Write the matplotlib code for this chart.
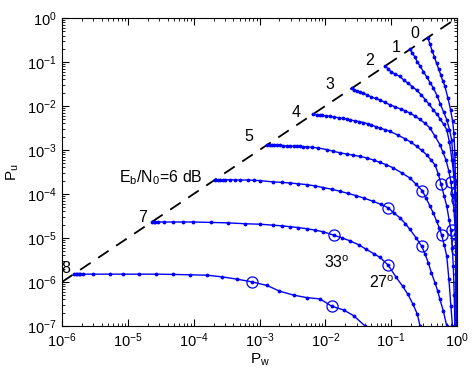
import matplotlib
matplotlib.use("Agg")
import matplotlib.pyplot as plt

plt.rcParams["font.family"] = ["Liberation Sans", "DejaVu Sans"]
plt.rcParams["mathtext.default"] = "regular"

# curves labelled by Eb/N0 (dB): (Pw, Pu) points
pw0 = [0.36, 0.39, 0.42, 0.455, 0.49, 0.53, 0.57, 0.61, 0.657, 0.73, 0.80, 0.86, 0.90, 0.93, 0.95, 0.965, 0.975, 0.98, 0.985]
pu0 = [0.36, 0.25, 0.18, 0.13, 9.4e-2, 6.8e-2, 5.0e-2, 3.7e-2, 2.8e-2, 1.5e-2, 8.2e-3, 4.5e-3, 2.4e-3, 8e-4, 2e-4, 7.5e-5, 1.2e-5, 1.5e-6, 1e-7]

pw1 = [0.193, 0.21, 0.23, 0.25, 0.274, 0.31, 0.35, 0.39, 0.436, 0.5, 0.56, 0.63, 0.70, 0.77, 0.83, 0.88, 0.93, 0.955, 0.97, 0.98, 0.985]
pu1 = [0.193, 0.16, 0.13, 0.10, 8.2e-2, 6.0e-2, 4.5e-2, 3.4e-2, 2.6e-2, 1.7e-2, 1.1e-2, 7.2e-3, 4.9e-3, 2.9e-3, 1.7e-3, 6e-4, 2e-4, 7.1e-5, 1.5e-5, 1.5e-6, 1e-7]

pw2 = [8.05e-2, 9e-2, 0.1, 0.115, 0.136, 0.155, 0.18, 0.21, 0.244, 0.285, 0.33, 0.38, 0.436, 0.5, 0.56, 0.63, 0.70, 0.77, 0.84, 0.90, 0.93, 0.96, 0.975, 0.98]
pu2 = [8.05e-2, 7.0e-2, 6.0e-2, 5.3e-2, 4.7e-2, 3.9e-2, 3.3e-2, 2.75e-2, 2.3e-2, 1.8e-2, 1.4e-2, 1.08e-2, 8.2e-3, 6.4e-3, 5e-3, 3.8e-3, 2.9e-3, 1.5e-3, 6e-4, 2.5e-4, 1.06e-4, 2e-5, 1.5e-6, 1e-7]

pw3 = [2.51e-2, 2.75e-2, 3.0e-2, 3.35e-2, 3.77e-2, 4.3e-2, 5.0e-2, 5.8e-2, 6.76e-2, 8e-2, 9.6e-2, 0.115, 0.14, 0.165, 0.193, 0.23, 0.27, 0.33, 0.389, 0.46, 0.552, 0.61, 0.68, 0.75, 0.81, 0.86, 0.90, 0.95, 0.965, 0.97]
pu3 = [2.51e-2, 2.35e-2, 2.2e-2, 2.08e-2, 1.96e-2, 1.78e-2, 1.6e-2, 1.48e-2, 1.38e-2, 1.21e-2, 1.06e-2, 9.6e-3, 8.5e-3, 7.7e-3, 6.9e-3, 5.9e-3, 5e-3, 4e-3, 3.15e-3, 2.1e-3, 1.32e-3, 9e-4, 6e-4, 3.4e-4, 1.88e-4, 9e-5, 4.4e-5, 1.2e-5, 1e-6, 1e-7]

pw4 = [6.4e-3, 7.4e-3, 8.2e-3, 9e-3, 1.03e-2, 1.17e-2, 1.35e-2, 1.6e-2, 1.85e-2, 2.1e-2, 2.4e-2, 2.8e-2, 3.3e-2, 3.8e-2, 4.4e-2, 5e-2, 5.8e-2, 6.8e-2, 8e-2, 9.6e-2, 0.125, 0.162, 0.2, 0.244, 0.29, 0.346, 0.4, 0.463, 0.52, 0.571, 0.64, 0.70, 0.76, 0.81, 0.85, 0.88, 0.91, 0.93]
pu4 = [6.4e-3, 6.3e-3, 6.2e-3, 6.1e-3, 5.95e-3, 5.8e-3, 5.6e-3, 5.4e-3, 5.2e-3, 5.05e-3, 4.8e-3, 4.6e-3, 4.4e-3, 4.2e-3, 3.95e-3, 3.7e-3, 3.4e-3, 3.15e-3, 2.9e-3, 2.64e-3, 2.2e-3, 1.8e-3, 1.5e-3, 1.21e-3, 9.8e-4, 7.8e-4, 6e-4, 4.6e-4, 2.9e-4, 1.7e-4, 9e-5, 5.3e-5, 2.6e-5, 1.48e-5, 6e-6, 2.3e-6, 5e-7, 1e-7]

pw5 = [1.31e-3, 1.42e-3, 1.53e-3, 1.67e-3, 1.82e-3, 2.05e-3, 2.29e-3, 2.6e-3, 2.9e-3, 3.3e-3, 3.66e-3, 4.1e-3, 4.6e-3, 5.3e-3, 6.2e-3, 7.8e-3, 1.05e-2, 1.3e-2, 1.67e-2, 2.1e-2, 2.63e-2, 3.4e-2, 4.25e-2, 5.4e-2, 6.76e-2, 8.5e-2, 0.108, 0.145, 0.193, 0.24, 0.297, 0.34, 0.389, 0.44, 0.491, 0.54, 0.585, 0.64, 0.70, 0.755, 0.81, 0.855]
pu5 = [1.31e-3, 1.31e-3, 1.3e-3, 1.29e-3, 1.28e-3, 1.27e-3, 1.25e-3, 1.24e-3, 1.23e-3, 1.22e-3, 1.21e-3, 1.2e-3, 1.19e-3, 1.17e-3, 1.15e-3, 1.11e-3, 1.02e-3, 9.4e-4, 8.6e-4, 8.1e-4, 7.6e-4, 7.1e-4, 6.6e-4, 5.9e-4, 5.2e-4, 4.6e-4, 3.9e-4, 3.0e-4, 2.3e-4, 1.65e-4, 1.19e-4, 8e-5, 5.3e-5, 3.6e-5, 2.4e-5, 1.7e-5, 1.16e-5, 7e-6, 3.9e-6, 1.15e-6, 2.8e-7, 1e-7]

pw6 = [2.1e-4, 2.3e-4, 2.5e-4, 2.75e-4, 3.0e-4, 3.55e-4, 4.2e-4, 5.0e-4, 6.7e-4, 8.2e-4, 1.01e-3, 1.6e-3, 2.2e-3, 2.9e-3, 3.9e-3, 5.2e-3, 7e-3, 9.2e-3, 1.25e-2, 1.67e-2, 2.2e-2, 2.9e-2, 3.9e-2, 5.3e-2, 7e-2, 9.0e-2, 0.11, 0.136, 0.165, 0.193, 0.24, 0.291, 0.33, 0.366, 0.41, 0.463, 0.51, 0.552, 0.62, 0.70]
pu6 = [2.1e-4, 2.1e-4, 2.1e-4, 2.1e-4, 2.1e-4, 2.1e-4, 2.08e-4, 2.07e-4, 2.07e-4, 2.04e-4, 2.01e-4, 1.88e-4, 1.83e-4, 1.77e-4, 1.7e-4, 1.63e-4, 1.52e-4, 1.4e-4, 1.28e-4, 1.15e-4, 1.03e-4, 9.2e-5, 8e-5, 6.8e-5, 5.8e-5, 4.84e-5, 3.7e-5, 2.87e-5, 2.1e-5, 1.56e-5, 1e-5, 6.5e-6, 4.2e-6, 2.74e-6, 1.6e-6, 9.6e-7, 6.2e-7, 4.0e-7, 2.2e-7, 1e-7]

pw7 = [2.3e-5, 2.45e-5, 2.6e-5, 2.9e-5, 3.5e-5, 4.9e-5, 6.9e-5, 9.8e-5, 1.8e-4, 3.3e-4, 6.0e-4, 1.0e-3, 1.6e-3, 2.2e-3, 2.9e-3, 3.9e-3, 5.2e-3, 7e-3, 9.3e-3, 1.37e-2, 1.8e-2, 2.4e-2, 3.2e-2, 4.2e-2, 5.4e-2, 6.8e-2, 9.0e-2, 0.12, 0.15, 0.18, 0.215, 0.25, 0.275]
pu7 = [2.3e-5, 2.3e-5, 2.3e-5, 2.3e-5, 2.3e-5, 2.3e-5, 2.3e-5, 2.3e-5, 2.25e-5, 2.2e-5, 2.1e-5, 2.05e-5, 1.95e-5, 1.88e-5, 1.8e-5, 1.72e-5, 1.62e-5, 1.5e-5, 1.38e-5, 1.14e-5, 1e-5, 8.5e-6, 7e-6, 5.5e-6, 4.4e-6, 3.6e-6, 2.4e-6, 1.26e-6, 7.9e-7, 5.2e-7, 3.1e-7, 1.85e-7, 1e-7]

pw8 = [1.5e-6, 1.6e-6, 1.7e-6, 1.8e-6, 1.9e-6, 2.1e-6, 2.9e-6, 5.4e-6, 8.4e-6, 1.5e-5, 2.7e-5, 4.8e-5, 8.7e-5, 1.6e-4, 2.7e-4, 4.6e-4, 7.7e-4, 1.3e-3, 2.0e-3, 3.3e-3, 5.2e-3, 8.3e-3, 1.25e-2, 1.9e-2, 2.7e-2, 4.0e-2]
pu8 = [1.5e-6, 1.5e-6, 1.5e-6, 1.5e-6, 1.5e-6, 1.5e-6, 1.5e-6, 1.5e-6, 1.5e-6, 1.5e-6, 1.5e-6, 1.48e-6, 1.45e-6, 1.42e-6, 1.3e-6, 1.15e-6, 1.0e-6, 8.3e-7, 6.2e-7, 5.0e-7, 4.4e-7, 4.1e-7, 2.8e-7, 2.3e-7, 1.7e-7, 1e-7]

curves = [(pw0, pu0), (pw1, pu1), (pw2, pu2), (pw3, pu3), (pw4, pu4),
          (pw5, pu5), (pw6, pu6), (pw7, pu7), (pw8, pu8)]
curve_labels = ["0", "1", "2", "3", "4", "5", "$E_b/N_0$=6 dB", "7", "8"]

# circled points at 33 deg and 27 deg
pw_33 = [7.7e-4, 1.37e-2, 9.0e-2, 0.297, 0.577, 0.81, 0.97, 0.985]
pu_33 = [1.0e-6, 1.14e-5, 4.84e-5, 1.19e-4, 1.7e-4, 1.88e-4, 1.06e-4, 7.1e-5]
pw_27 = [1.25e-2, 9.0e-2, 0.297, 0.585, 0.83, 0.975, 0.985, 0.99]
pu_27 = [2.8e-7, 2.38e-6, 6.5e-6, 1.16e-5, 1.48e-5, 1.2e-5, 7.5e-6, 5.2e-6]

diag = [1e-6, 1.0]

fig = plt.figure(figsize=(4.74, 3.75), dpi=100)
ax = fig.add_axes([0.131, 0.131, 0.833, 0.821])

ax.loglog(diag, diag, color="k", linestyle=(0, (7, 5)), linewidth=1.3)

for (x, y) in curves:
    ax.plot(x, y, "b.-", linewidth=1.0, markersize=3.5)

ax.plot(pw_33, pu_33, "o", mfc="none", mec="b", markersize=8, linewidth=0, mew=0.9)
ax.plot(pw_27, pu_27, "o", mfc="none", mec="b", markersize=8, linewidth=0, mew=0.9)

offsets = [(-13, 4), (-14, 2), (-15, 6), (-22, 4), (-16, 2), (-18, 8), (-12, 2), (-9, 5), (-8, 6)]
for (x, y), lab, off in zip(curves, curve_labels, offsets):
    ha = "right" if "dB" in lab else "center"
    ax.annotate(lab, (x[0], y[0]), xytext=off, textcoords="offset pixels",
                ha=ha, va="center", fontsize=11.5)

ax.text(1.5e-2, 2.7e-6, "33$^o$", ha="center", va="center", fontsize=11.5)
ax.text(7.2e-2, 9.6e-7, "27$^o$", ha="center", va="center", fontsize=11.5)

ax.set_xlim(1e-6, 1)
ax.set_ylim(1e-7, 1)
ax.set_xlabel("$P_w$", fontsize=11, labelpad=1)
ax.set_ylabel("$P_u$", fontsize=11, labelpad=4)
ax.tick_params(which="both", direction="in", top=True, right=True, labelsize=10.5)
ax.tick_params(which="major", length=5, pad=4)
ax.tick_params(which="minor", length=2.5)

fig.savefig("out.png", dpi=100)
